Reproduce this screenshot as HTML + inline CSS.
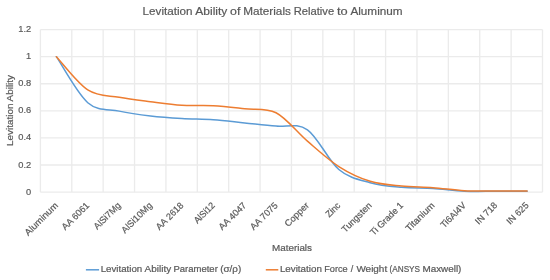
<!DOCTYPE html>
<html><head><meta charset="utf-8"><style>
html,body{margin:0;padding:0;background:#fff;}
svg{display:block;will-change:transform;}
text{font-family:"Liberation Sans",sans-serif;fill:#595959;stroke:#595959;stroke-width:0.2px;}
</style></head><body>
<svg width="550" height="280" viewBox="0 0 550 280">
<rect width="550" height="280" fill="#fff"/>
<g stroke="#ebebeb" stroke-width="1.3" fill="none">
<line x1="40.40" y1="192.10" x2="542.50" y2="192.10"/><line x1="40.40" y1="165.02" x2="542.50" y2="165.02"/><line x1="40.40" y1="137.93" x2="542.50" y2="137.93"/><line x1="40.40" y1="110.85" x2="542.50" y2="110.85"/><line x1="40.40" y1="83.77" x2="542.50" y2="83.77"/><line x1="40.40" y1="56.68" x2="542.50" y2="56.68"/><line x1="40.40" y1="29.60" x2="542.50" y2="29.60"/><line x1="40.40" y1="29.60" x2="40.40" y2="192.10"/><line x1="71.78" y1="29.60" x2="71.78" y2="192.10"/><line x1="103.16" y1="29.60" x2="103.16" y2="192.10"/><line x1="134.54" y1="29.60" x2="134.54" y2="192.10"/><line x1="165.93" y1="29.60" x2="165.93" y2="192.10"/><line x1="197.31" y1="29.60" x2="197.31" y2="192.10"/><line x1="228.69" y1="29.60" x2="228.69" y2="192.10"/><line x1="260.07" y1="29.60" x2="260.07" y2="192.10"/><line x1="291.45" y1="29.60" x2="291.45" y2="192.10"/><line x1="322.83" y1="29.60" x2="322.83" y2="192.10"/><line x1="354.21" y1="29.60" x2="354.21" y2="192.10"/><line x1="385.59" y1="29.60" x2="385.59" y2="192.10"/><line x1="416.98" y1="29.60" x2="416.98" y2="192.10"/><line x1="448.36" y1="29.60" x2="448.36" y2="192.10"/><line x1="479.74" y1="29.60" x2="479.74" y2="192.10"/><line x1="511.12" y1="29.60" x2="511.12" y2="192.10"/><line x1="542.50" y1="29.60" x2="542.50" y2="192.10"/>
</g>
<text x="142.60" y="15.20" font-size="11.3" textLength="49.94" lengthAdjust="spacingAndGlyphs">Levitation</text><text x="195.34" y="15.20" font-size="11.3" textLength="31.97" lengthAdjust="spacingAndGlyphs">Ability</text><text x="230.11" y="15.20" font-size="11.3" textLength="10.31" lengthAdjust="spacingAndGlyphs">of</text><text x="243.23" y="15.20" font-size="11.3" textLength="47.65" lengthAdjust="spacingAndGlyphs">Materials</text><text x="293.68" y="15.20" font-size="11.3" textLength="40.45" lengthAdjust="spacingAndGlyphs">Relative</text><text x="336.93" y="15.20" font-size="11.3" textLength="10.69" lengthAdjust="spacingAndGlyphs">to</text><text x="350.41" y="15.20" font-size="11.3" textLength="52.19" lengthAdjust="spacingAndGlyphs">Aluminum</text>
<g font-size="9.8"><text x="31.2" y="194.60" text-anchor="end" textLength="5.17" lengthAdjust="spacingAndGlyphs">0</text><text x="31.2" y="167.52" text-anchor="end" textLength="12.91" lengthAdjust="spacingAndGlyphs">0.2</text><text x="31.2" y="140.43" text-anchor="end" textLength="12.91" lengthAdjust="spacingAndGlyphs">0.4</text><text x="31.2" y="113.35" text-anchor="end" textLength="12.91" lengthAdjust="spacingAndGlyphs">0.6</text><text x="31.2" y="86.27" text-anchor="end" textLength="12.91" lengthAdjust="spacingAndGlyphs">0.8</text><text x="31.2" y="59.18" text-anchor="end" textLength="5.17" lengthAdjust="spacingAndGlyphs">1</text><text x="31.2" y="32.10" text-anchor="end" textLength="12.91" lengthAdjust="spacingAndGlyphs">1.2</text></g>
<g font-size="9.2"><text x="58.59" y="206.00" text-anchor="end" textLength="42.94" lengthAdjust="spacingAndGlyphs" transform="rotate(-45 58.59 206.00)">Aluminum</text><text x="89.97" y="206.00" text-anchor="end" textLength="34.80" lengthAdjust="spacingAndGlyphs" transform="rotate(-45 89.97 206.00)">AA 6061</text><text x="121.35" y="206.00" text-anchor="end" textLength="33.96" lengthAdjust="spacingAndGlyphs" transform="rotate(-45 121.35 206.00)">AlSi7Mg</text><text x="152.73" y="206.00" text-anchor="end" textLength="39.13" lengthAdjust="spacingAndGlyphs" transform="rotate(-45 152.73 206.00)">AlSi10Mg</text><text x="184.12" y="206.00" text-anchor="end" textLength="34.80" lengthAdjust="spacingAndGlyphs" transform="rotate(-45 184.12 206.00)">AA 2618</text><text x="215.50" y="206.00" text-anchor="end" textLength="25.60" lengthAdjust="spacingAndGlyphs" transform="rotate(-45 215.50 206.00)">AlSi12</text><text x="246.88" y="206.00" text-anchor="end" textLength="34.80" lengthAdjust="spacingAndGlyphs" transform="rotate(-45 246.88 206.00)">AA 4047</text><text x="278.26" y="206.00" text-anchor="end" textLength="34.80" lengthAdjust="spacingAndGlyphs" transform="rotate(-45 278.26 206.00)">AA 7075</text><text x="309.64" y="206.00" text-anchor="end" textLength="30.16" lengthAdjust="spacingAndGlyphs" transform="rotate(-45 309.64 206.00)">Copper</text><text x="341.02" y="206.00" text-anchor="end" textLength="16.78" lengthAdjust="spacingAndGlyphs" transform="rotate(-45 341.02 206.00)">Zinc</text><text x="372.40" y="206.00" text-anchor="end" textLength="38.32" lengthAdjust="spacingAndGlyphs" transform="rotate(-45 372.40 206.00)">Tungsten</text><text x="403.78" y="206.00" text-anchor="end" textLength="42.40" lengthAdjust="spacingAndGlyphs" transform="rotate(-45 403.78 206.00)">Ti Grade 1</text><text x="435.17" y="206.00" text-anchor="end" textLength="36.80" lengthAdjust="spacingAndGlyphs" transform="rotate(-45 435.17 206.00)">Titanium</text><text x="466.55" y="206.00" text-anchor="end" textLength="31.67" lengthAdjust="spacingAndGlyphs" transform="rotate(-45 466.55 206.00)">Ti6Al4V</text><text x="497.93" y="206.00" text-anchor="end" textLength="26.98" lengthAdjust="spacingAndGlyphs" transform="rotate(-45 497.93 206.00)">IN 718</text><text x="529.31" y="206.00" text-anchor="end" textLength="26.98" lengthAdjust="spacingAndGlyphs" transform="rotate(-45 529.31 206.00)">IN 625</text></g>
<text x="13.3" y="110.5" font-size="8.9" text-anchor="middle" transform="rotate(-90 13.3 110.5)" textLength="71" lengthAdjust="spacingAndGlyphs">Levitation Ability</text>
<text x="272" y="251" font-size="9.2" textLength="40" lengthAdjust="spacingAndGlyphs">Materials</text>
<g fill="none" stroke-width="1.5" stroke-linecap="round" stroke-linejoin="round">
<path d="M56.39,56.68 C61.62,64.36 77.31,93.65 87.77,102.72 C98.23,111.80 108.69,108.91 119.15,111.12 C129.61,113.33 140.07,114.75 150.53,116.00 C160.99,117.24 171.46,117.94 181.92,118.57 C192.38,119.20 202.84,119.07 213.30,119.79 C223.76,120.51 234.22,121.86 244.68,122.90 C255.14,123.94 265.60,124.87 276.06,126.02 C286.52,127.17 296.98,122.56 307.44,129.81 C317.90,137.05 328.36,160.66 338.82,169.49 C349.28,178.31 359.74,179.78 370.20,182.76 C380.66,185.74 391.12,186.41 401.58,187.36 C412.04,188.31 422.51,187.81 432.97,188.44 C443.43,189.08 453.89,190.68 464.35,191.15 C474.81,191.63 485.27,191.26 495.73,191.29 C506.19,191.31 521.88,191.29 527.11,191.29" stroke="#5b9bd5"/>
<path d="M56.39,56.68 C61.62,62.21 77.31,83.09 87.77,89.86 C98.23,96.63 108.69,95.32 119.15,97.31 C129.61,99.29 140.07,100.45 150.53,101.78 C160.99,103.11 171.46,104.64 181.92,105.30 C192.38,105.95 202.84,105.12 213.30,105.70 C223.76,106.29 234.22,107.65 244.68,108.82 C255.14,109.99 265.60,107.35 276.06,112.75 C286.52,118.14 296.98,132.22 307.44,141.18 C317.90,150.14 328.36,159.83 338.82,166.51 C349.28,173.19 359.74,178.02 370.20,181.27 C380.66,184.52 391.12,184.95 401.58,186.01 C412.04,187.07 422.51,186.84 432.97,187.63 C443.43,188.42 453.89,190.18 464.35,190.75 C474.81,191.31 485.27,190.97 495.73,191.02 C506.19,191.06 521.88,191.02 527.11,191.02" stroke="#ed7d31"/>
<line x1="85.9" y1="269.8" x2="99.1" y2="269.8" stroke="#5b9bd5" stroke-linecap="butt"/>
<line x1="265.8" y1="269.8" x2="278.3" y2="269.8" stroke="#ed7d31" stroke-linecap="butt"/>
</g>
<text x="100.70" y="272.10" font-size="9.0" textLength="41.54" lengthAdjust="spacingAndGlyphs">Levitation</text><text x="144.57" y="272.10" font-size="9.0" textLength="26.59" lengthAdjust="spacingAndGlyphs">Ability</text><text x="173.48" y="272.10" font-size="9.0" textLength="44.36" lengthAdjust="spacingAndGlyphs">Parameter</text><text x="220.18" y="272.10" font-size="9.0" textLength="21.12" lengthAdjust="spacingAndGlyphs">(σ/ρ)</text>
<text x="279.90" y="272.10" font-size="9.0" textLength="41.97" lengthAdjust="spacingAndGlyphs">Levitation</text><text x="324.22" y="272.10" font-size="9.0" textLength="23.50" lengthAdjust="spacingAndGlyphs">Force</text><text x="352.08" y="272.10" font-size="9.0" text-anchor="middle">/</text><text x="356.45" y="272.10" font-size="9.0" textLength="30.71" lengthAdjust="spacingAndGlyphs">Weight</text><text x="389.51" y="272.10" font-size="9.0" textLength="30.56" lengthAdjust="spacingAndGlyphs">(ANSYS</text><text x="422.42" y="272.10" font-size="9.0" textLength="38.98" lengthAdjust="spacingAndGlyphs">Maxwell)</text>
</svg>
</body></html>
